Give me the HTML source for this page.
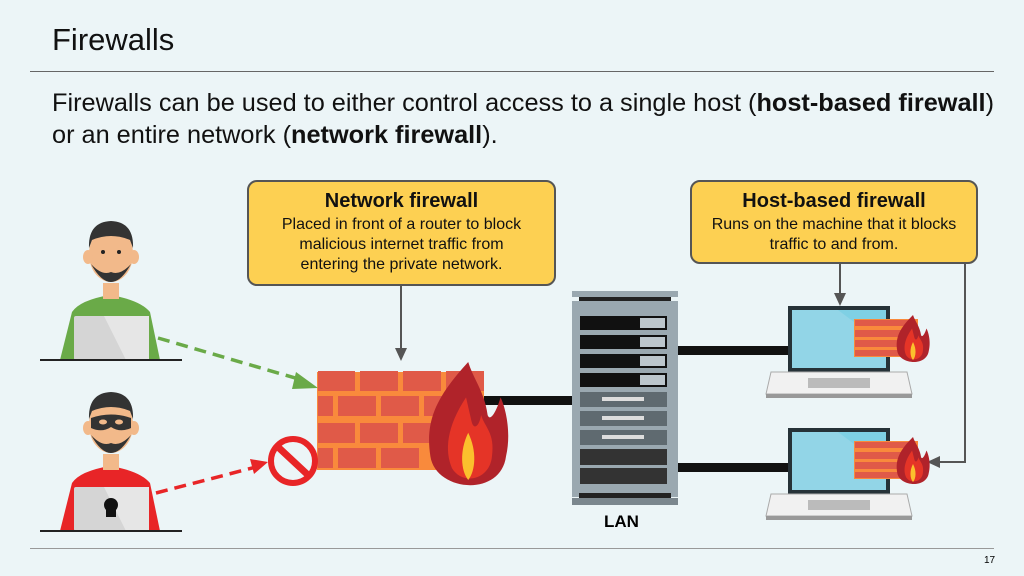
<!DOCTYPE html>
<html><head><meta charset="utf-8"><style>
body{margin:0;width:1024px;height:576px;background:#ecf5f7;font-family:"Liberation Sans",sans-serif;overflow:hidden;position:relative}
.t{position:absolute;left:52px;top:22px;font-size:31px;color:#111}
.b{position:absolute;left:52px;top:87px;font-size:25.3px;line-height:32px;color:#111}
.box{position:absolute;background:#fdd052;border:2px solid #555;border-radius:10px;text-align:center;color:#111;box-sizing:border-box}
.box h{display:block;font-weight:bold;font-size:20px;margin-top:8px}
.box p{margin:2px 0 0;font-size:16px;line-height:20px}
</style></head><body>
<div class="t">Firewalls</div>
<div style="position:absolute;left:30px;top:71px;width:964px;height:1px;background:#666"></div>
<div class="b">Firewalls can be used to either control access to a single host (<b>host-based firewall</b>)<br>or an entire network (<b>network firewall</b>).</div>
<div class="box" style="left:247px;top:180px;width:309px;height:106px"><h>Network firewall</h><p>Placed in front of a router to block<br>malicious internet traffic from<br>entering the private network.</p></div>
<div class="box" style="left:690px;top:180px;width:288px;height:84px"><h>Host-based firewall</h><p>Runs on the machine that it blocks<br>traffic to and from.</p></div>
<div style="position:absolute;left:30px;top:548px;width:964px;height:1px;background:#999"></div>
<div style="position:absolute;left:984px;top:555px;font-size:10px">17</div>
<div style="position:absolute;left:604px;top:512px;font-size:17px;font-weight:bold">LAN</div>
<svg width="1024" height="576" style="position:absolute;left:0;top:0">
<defs>
<g id="lap">
<rect x="0" y="0" width="102" height="66" fill="#263238"/>
<rect x="4" y="4" width="94" height="58" fill="#7fd0e4"/>
<polygon points="4,4 50,4 98,40 98,62 4,62" fill="#9ed9ea" opacity=".6"/>
<polygon points="-17,66 119,66 124,88 -22,88" fill="#f1f1f1" stroke="#aaa"/>
<rect x="-22" y="88" width="146" height="4" fill="#999"/>
<rect x="20" y="72" width="62" height="10" fill="#bbb"/>
</g>
<g id="flame">
<path d="M40,0 C10,30 0,50 5,80 C10,110 70,115 75,80 C80,60 75,40 70,30 C65,45 60,50 58,45 C55,25 45,15 40,0Z" fill="#b0232a"/>
<path d="M38,30 C20,55 18,75 25,90 C35,105 60,100 62,80 C65,60 55,55 52,45 C50,55 45,58 43,50Z" fill="#e53427"/>
<path d="M40,60 C32,75 33,92 40,100 C47,92 48,75 40,60Z" fill="#fbc02d"/>
</g>
</defs>
<g stroke="#555" stroke-width="2" fill="none"><line x1="401" y1="286" x2="401" y2="352"/><line x1="840" y1="264" x2="840" y2="298"/><polyline points="965,264 965,462 938,462"/></g>
<g fill="#555"><path d="M395,348 L407,348 L401,361Z"/><path d="M834,293 L846,293 L840,306Z"/><path d="M940,456 L940,468 L927,462Z"/></g>
<g fill="#111"><rect x="484" y="396" width="90" height="9"/><rect x="678" y="346" width="112" height="9"/><rect x="678" y="463" width="112" height="9"/></g>
<rect x="317" y="372" width="167" height="98" fill="#f98a3c"/>
<g fill="#e05a48">
<rect x="318" y="371" width="37" height="20"/><rect x="360" y="371" width="38" height="20"/><rect x="403" y="371" width="38" height="20"/><rect x="446" y="371" width="38" height="20"/>
<rect x="318" y="396" width="15" height="20"/><rect x="338" y="396" width="38" height="20"/><rect x="381" y="396" width="38" height="20"/><rect x="424" y="396" width="38" height="20"/>
<rect x="318" y="423" width="37" height="20"/><rect x="360" y="423" width="38" height="20"/><rect x="403" y="423" width="38" height="20"/>
<rect x="318" y="448" width="15" height="20"/><rect x="338" y="448" width="38" height="20"/><rect x="381" y="448" width="38" height="20"/>
</g>
<use href="#flame" transform="translate(425,362) scale(1.08,1.18)"/>
<rect x="572" y="291" width="106" height="6" fill="#9aa8b0"/><rect x="579" y="297" width="92" height="4" fill="#222"/>
<rect x="572" y="301" width="106" height="196" fill="#9aa8b0"/>
<rect x="579" y="493" width="92" height="5" fill="#222"/><rect x="572" y="498" width="106" height="7" fill="#7b878e"/>
<g><rect x="580" y="316" width="87" height="14" fill="#111"/><rect x="640" y="318" width="25" height="10" fill="#bcc6cc"/>
<rect x="580" y="335" width="87" height="14" fill="#111"/><rect x="640" y="337" width="25" height="10" fill="#bcc6cc"/>
<rect x="580" y="354" width="87" height="14" fill="#111"/><rect x="640" y="356" width="25" height="10" fill="#bcc6cc"/>
<rect x="580" y="373" width="87" height="14" fill="#111"/><rect x="640" y="375" width="25" height="10" fill="#bcc6cc"/></g>
<g fill="#5f6a70"><rect x="580" y="392" width="87" height="15"/><rect x="580" y="411" width="87" height="15"/><rect x="580" y="430" width="87" height="15"/></g>
<g fill="#ddd"><rect x="602" y="397" width="42" height="4"/><rect x="602" y="416" width="42" height="4"/><rect x="602" y="435" width="42" height="4"/></g>
<g fill="#333"><rect x="580" y="449" width="87" height="16"/><rect x="580" y="468" width="87" height="16"/></g>
<use href="#lap" transform="translate(788,306)"/>
<use href="#lap" transform="translate(788,428)"/>
<g fill="#f98a3c"><rect x="854" y="319" width="64" height="38"/><rect x="854" y="441" width="64" height="38"/></g>
<g fill="#e05a48"><rect x="855" y="320" width="60" height="6"/><rect x="855" y="330" width="60" height="7"/><rect x="855" y="340" width="60" height="7"/><rect x="855" y="350" width="60" height="6"/>
<rect x="855" y="442" width="60" height="6"/><rect x="855" y="452" width="60" height="7"/><rect x="855" y="462" width="60" height="7"/><rect x="855" y="472" width="60" height="6"/></g>
<use href="#flame" transform="translate(895,315) scale(.45,.45)"/>
<use href="#flame" transform="translate(895,437) scale(.45,.45)"/>
<g>
<path d="M60,360 L72,312 Q80,300 110,295 Q140,300 150,312 L160,360Z" fill="#6aaa48"/>
<rect x="103" y="283" width="16" height="16" fill="#f2b98a"/>
<ellipse cx="111" cy="254" rx="22" ry="28" fill="#f2b98a"/>
<ellipse cx="88" cy="257" rx="5" ry="7" fill="#f2b98a"/><ellipse cx="134" cy="257" rx="5" ry="7" fill="#f2b98a"/>
<path d="M89,248 Q88,222 111,221 Q134,222 133,248 L130,240 Q111,232 92,240Z" fill="#333"/>
<path d="M91,264 Q111,300 131,264 Q120,276 111,272 Q102,276 91,264Z" fill="#333"/>
<circle cx="103" cy="252" r="2" fill="#222"/><circle cx="119" cy="252" r="2" fill="#222"/>
<rect x="74" y="316" width="75" height="44" rx="2" fill="#d5d5d5"/>
<polygon points="104,316 149,316 149,360 126,360" fill="#e6e6e6"/>
<rect x="40" y="359" width="142" height="2" fill="#222"/>
</g>
<g transform="translate(0,171)">
<path d="M60,360 L72,312 Q80,300 110,295 Q140,300 150,312 L160,360Z" fill="#e82527"/>
<rect x="103" y="283" width="16" height="16" fill="#f2b98a"/>
<ellipse cx="111" cy="254" rx="22" ry="28" fill="#f2b98a"/>
<ellipse cx="88" cy="257" rx="5" ry="7" fill="#f2b98a"/><ellipse cx="134" cy="257" rx="5" ry="7" fill="#f2b98a"/>
<path d="M89,248 Q88,222 111,221 Q134,222 133,248 L130,240 Q111,232 92,240Z" fill="#333"/>
<path d="M91,264 Q111,300 131,264 Q120,276 111,272 Q102,276 91,264Z" fill="#333"/>
<path d="M91,247 Q111,240 131,247 L131,257 Q120,262 111,256 Q102,262 91,257Z" fill="#333"/>
<ellipse cx="103" cy="251" rx="4" ry="2.5" fill="#f2b98a"/><ellipse cx="119" cy="251" rx="4" ry="2.5" fill="#f2b98a"/>
<rect x="74" y="316" width="75" height="44" rx="2" fill="#d5d5d5"/>
<polygon points="104,316 149,316 149,360 126,360" fill="#e6e6e6"/>
<circle cx="111" cy="334" r="7" fill="#111"/><rect x="106" y="339" width="10" height="7" fill="#111"/>
<rect x="40" y="359" width="142" height="2" fill="#222"/>
</g>
<line x1="158" y1="338" x2="302" y2="380" stroke="#6aaa48" stroke-width="3.5" stroke-dasharray="12,7"/>
<path d="M296,372 L318,388 L292,389Z" fill="#6aaa48"/>
<line x1="156" y1="493" x2="256" y2="467" stroke="#e82527" stroke-width="3.5" stroke-dasharray="12,7"/>
<path d="M250,459 L268,462 L254,474Z" fill="#e82527"/>
<circle cx="293" cy="461" r="22" fill="none" stroke="#e82527" stroke-width="6"/>
<line x1="278" y1="447" x2="308" y2="475" stroke="#e82527" stroke-width="7"/>
</svg>
</body></html>
